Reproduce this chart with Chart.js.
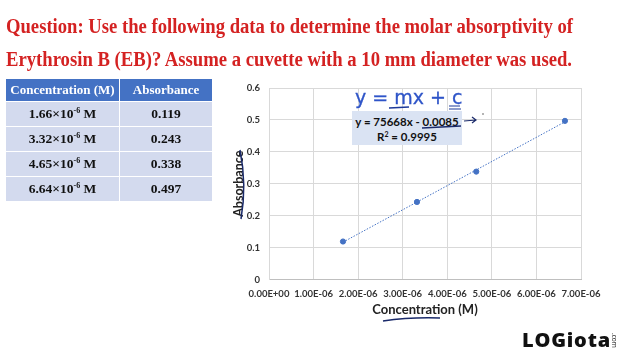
<!DOCTYPE html>
<html><head><meta charset="utf-8">
<script src="https://cdn.jsdelivr.net/npm/chart.js@4.4.1/dist/chart.umd.min.js"></script>
<style>
html,body{margin:0;padding:0;background:#fff;}
#wrap{position:relative;width:640px;height:360px;overflow:hidden;background:#fff;}
#chart{position:absolute;left:0;top:0;}
.title{position:absolute;left:6px;font-family:"Liberation Serif","Times New Roman",serif;font-weight:bold;font-size:20px;line-height:20px;color:#d42222;white-space:nowrap;transform-origin:0 0;}
#tbl{position:absolute;left:5px;top:78px;border-collapse:collapse;font-family:"Liberation Serif","Times New Roman",serif;font-weight:bold;font-size:13.5px;}
#tbl td,#tbl th{padding:0;text-align:center;border:1.5px solid #fff;}
#tbl th{background:#4472c4;color:#fff;height:22px;font-size:13px;}
#tbl td{background:#d3daee;color:#111;height:24px;}
#tbl sup{font-size:8px;vertical-align:5px;line-height:0;}
#eq{position:absolute;left:352px;top:111px;width:110px;height:34px;background:#dae3f3;font-family:Lato,"Liberation Sans",sans-serif;font-weight:bold;font-size:11.5px;color:#111;text-align:center;line-height:15px;padding-top:3px;box-sizing:border-box;}
#eq sup{font-size:7px;vertical-align:4px;line-height:0;}
#logo{position:absolute;left:522px;top:326px;font-family:"Open Sans",sans-serif;font-weight:800;font-size:20px;color:#111;letter-spacing:0.8px;}
#com{position:absolute;left:619px;top:333px;font-family:"Open Sans",sans-serif;font-size:6.5px;color:#111;transform:rotate(90deg);transform-origin:0 0;}
svg{position:absolute;left:0;top:0;}
</style></head>
<body><div id="wrap">
<canvas id="chart" width="640" height="360"></canvas>
<div class="title" id="t1" style="top:16px">Question: Use the following data to determine the molar absorptivity of</div>
<div class="title" id="t2" style="top:49px">Erythrosin B (EB)? Assume a cuvette with a 10 mm diameter was used.</div>
<table id="tbl"><thead><tr><th style="width:113px">Concentration (M)</th><th style="width:92px">Absorbance</th></tr></thead><tbody id="tb"></tbody></table>
<div id="eq">y = 75668x - 0.0085<br>R<sup>2</sup> = 0.9995</div>
<svg width="640" height="360">
  <text x="355" y="104" font-family="DejaVu Sans" font-size="19" fill="#2f55c8" stroke="#2f55c8" stroke-width="0.3">y = mx + c</text>
  <path d="M389,108 L409,107" stroke="#1d3a9a" stroke-width="1.3" fill="none"/>
  <path d="M449,106 L460,106 M449,109 L461,109" stroke="#1d3a9a" stroke-width="1.2" fill="none"/>
  <path d="M422,128 Q440,127 461,126" stroke="#1a2a6a" stroke-width="1.6" fill="none"/>
  <path d="M464,121 L476,120 M472,117 L476,120 L472,123" stroke="#1a2a6a" stroke-width="1.2" fill="none"/>
  <circle cx="483" cy="114" r="0.8" fill="#555"/>
  <path d="M240,150 Q247,185 241,219" stroke="#1a2a6a" stroke-width="1.5" fill="none"/>
  <path d="M383,321 Q410,317 440,318" stroke="#1a2a6a" stroke-width="1.5" fill="none"/>
</svg>
<div id="logo">LOGiota</div>
<div id="com">.com</div>
</div>
<script>
const concentrations = [1.66e-6, 3.32e-6, 4.65e-6, 6.64e-6];
const concentrationLabels = ['1.66', '3.32', '4.65', '6.64'];
const absorbances = [0.119, 0.243, 0.338, 0.497];
const absorbanceLabels = ['0.119', '0.243', '0.338', '0.497'];
const trendX = [1.66e-6, 6.64e-6];
const trendY = [0.117, 0.494];
const xTickValues = [0, 1e-6, 2e-6, 3e-6, 4e-6, 5e-6, 6e-6, 7e-6];
const xTickLabels = ['0.00E+00','1.00E-06','2.00E-06','3.00E-06','4.00E-06','5.00E-06','6.00E-06','7.00E-06'];
const yTickValues = [0, 0.1, 0.2, 0.3, 0.4, 0.5, 0.6];
const yTickLabels = ['0','0.1','0.2','0.3','0.4','0.5','0.6'];

// table
const tb = document.getElementById('tb');
concentrationLabels.forEach((c, i) => {
  const tr = document.createElement('tr');
  tr.innerHTML = '<td>' + c + '×10<sup>-6</sup> M</td><td>' + absorbanceLabels[i] + '</td>';
  tb.appendChild(tr);
});

// fit title widths
function fitW(id, w){ const el=document.getElementById(id); const r=el.getBoundingClientRect().width; el.style.transform='scaleX('+(w/r)+')'; }
fitW('t1', 567); fitW('t2', 566);

const tickFont = {family: 'Lato, "Liberation Sans", sans-serif', weight: 'bold', size: 9.5};
new Chart(document.getElementById('chart'), {
  type: 'scatter',
  data: {
    datasets: [
      {
        data: concentrations.map((x, i) => ({x, y: absorbances[i]})),
        backgroundColor: '#4472c4', borderColor: '#4472c4',
        pointRadius: 2.6, pointHoverRadius: 2.6, order: 1
      },
      {
        type: 'line',
        data: trendX.map((x, i) => ({x, y: trendY[i]})),
        borderColor: '#4472c4', borderWidth: 1, borderDash: [1.5, 1.5],
        pointRadius: 0, fill: false, order: 2
      }
    ]
  },
  options: {
    responsive: false, animation: false,
    devicePixelRatio: 1,
    layout: {padding: {left: 227, right: 59, top: 88, bottom: 42}},
    plugins: {legend: {display: false}, tooltip: {enabled: false}},
    scales: {
      x: {
        type: 'linear', min: 0, max: 7e-6,
        afterBuildTicks: s => { s.ticks = xTickValues.map(v => ({value: v})); },
        afterFit: s => { s.height = 38.5; },
        grid: {color: '#d9d9d9', drawTicks: false},
        border: {color: '#bfbfbf', width: 1},
        ticks: {font: tickFont, color: '#333', padding: 9, maxRotation: 0, autoSkip: false,
          callback: (v, i) => xTickLabels[i]},
        title: {display: true, text: 'Concentration (M)', color: '#222',
          font: {family: 'Lato, "Liberation Sans", sans-serif', weight: 'bold', size: 13},
          padding: {top: 0, bottom: 0}}
      },
      y: {
        min: 0, max: 0.6,
        afterBuildTicks: s => { s.ticks = yTickValues.map(v => ({value: v})); },
        afterFit: s => { s.width = 42; },
        grid: {color: '#d9d9d9', drawTicks: false},
        border: {color: '#d9d9d9'},
        ticks: {font: tickFont, color: '#333', padding: 9, autoSkip: false,
          callback: (v, i) => yTickLabels[i]},
        title: {display: true, text: 'Absorbance', color: '#222',
          font: {family: 'Lato, "Liberation Sans", sans-serif', weight: 'bold', size: 12.5},
          padding: {top: 4, bottom: 0}}
      }
    }
  }
});
</script>
</body></html>
